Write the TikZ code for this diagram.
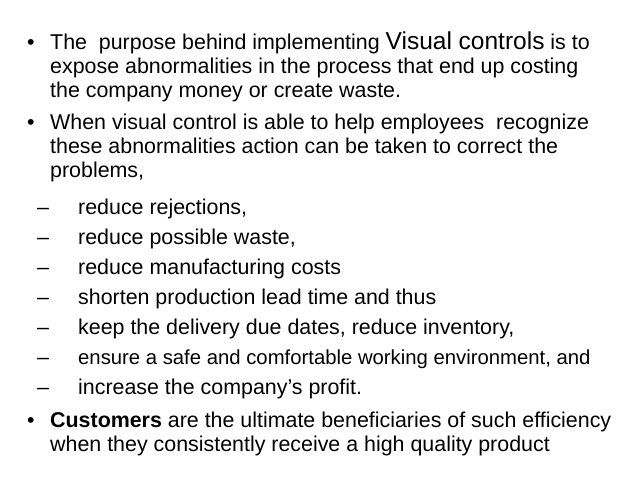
\documentclass[tikz,border=0pt]{standalone}
\usepackage{fontspec}
\setmainfont[Ligatures=NoCommon]{Liberation Sans}
\begin{document}
\begin{tikzpicture}[x=1pt,y=-1pt,
  t/.style={anchor=base west,inner sep=0,font=\fontsize{21.4}{25}\selectfont},
  ts/.style={anchor=base west,inner sep=0,font=\fontsize{20.3}{24}\selectfont}]
\useasboundingbox (0,0) rectangle (638,478);
\node[t] (b1) at (27,50) {•};
\node[t] (l1) at (50,50) {The \ purpose behind implementing {\fontsize{24.5}{28}\selectfont Visual controls} is to};
\node[t] (l2) at (50,74) {expose abnormalities in the process that end up costing};
\node[t] (l3) at (50,98) {the company money or create waste.};
\node[t] (b2) at (27,130) {•};
\node[t] (l4) at (50,130) {When visual control is able to help employees \ recognize};
\node[t] (l5) at (50,154) {these abnormalities action can be taken to correct the};
\node[t] (l6) at (50,178) {problems,};
\node[t] (d1) at (37,215) {–}; \node[t] (s1) at (78,215) {reduce rejections,};
\node[t] (d2) at (37,245) {–}; \node[t] (s2) at (78,245) {reduce possible waste,};
\node[t] (d3) at (37,275) {–}; \node[t] (s3) at (78,275) {reduce manufacturing costs};
\node[t] (d4) at (37,305) {–}; \node[t] (s4) at (78,305) {shorten production lead time and thus};
\node[t] (d5) at (37,335) {–}; \node[t] (s5) at (78,335) {keep the delivery due dates, reduce inventory,};
\node[t] (d6) at (37,365) {–}; \node[ts] (s6) at (78,365) {ensure a safe and comfortable working environment, and};
\node[t] (d7) at (37,395) {–}; \node[t] (s7) at (78,395) {increase the company\symbol{"0027}s profit.};
\node[t] (b3) at (27,428) {•};
\node[t] (l7) at (50,428) {\textbf{Customers} are the ultimate beneficiaries of such efficiency};
\node[t] (l8) at (50,452) {when they consistently receive a high quality product};
\end{tikzpicture}
\end{document}
